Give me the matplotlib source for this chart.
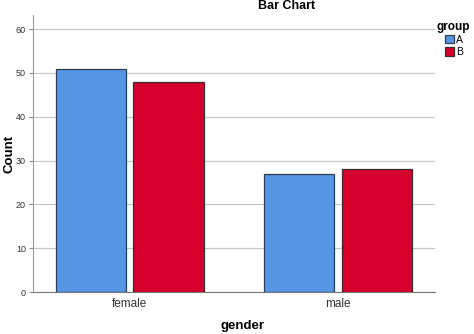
import matplotlib.pyplot as plt
import numpy as np

plt.rcParams['font.family'] = ['Liberation Sans', 'DejaVu Sans']

# Data
genders = ['female', 'male']
groups = ['A', 'B']
count_a = [51, 27]
count_b = [48, 28]
colors = ['#5595e3', '#d5002c']

fig = plt.figure(figsize=(4.74, 3.34), dpi=100)
ax = fig.add_axes([0.0696, 0.1257, 0.848, 0.829])

x = np.arange(len(genders))
w = 0.337
gap = 0.034
ax.bar(x - (w + gap) / 2, count_a, w, color=colors[0], edgecolor='#2f3d4e', linewidth=0.9, label=groups[0], zorder=3)
ax.bar(x + (w + gap) / 2, count_b, w, color=colors[1], edgecolor='#3a2a30', linewidth=0.9, label=groups[1], zorder=3)

ax.set_xlim(-0.466, 1.466)
ax.set_ylim(0, 63.2)
ax.set_yticks(range(0, 61, 10))
ax.set_xticks(x)
ax.set_xticklabels(genders)
ax.yaxis.grid(True, color='#c8c8c8', linewidth=0.9, zorder=0)
ax.tick_params(axis='y', labelsize=6.5, colors='#888888', labelcolor='#333333', length=3, pad=2)
ax.tick_params(axis='x', labelsize=8.5, labelcolor='#333333', length=0, pad=4)

for s in ['top', 'right']:
    ax.spines[s].set_visible(False)
ax.spines['left'].set_color('#999999')
ax.spines['bottom'].set_color('#777777')

ax.set_ylabel('Count', fontsize=9.5, fontweight='bold')
ax.yaxis.set_label_coords(-0.043, 0.5)
ax.set_xlabel('gender', fontsize=9.5, fontweight='bold')
ax.xaxis.set_label_coords(0.52, -0.1)
fig.text(0.605, 0.982, 'Bar Chart', fontsize=9, fontweight='bold', ha='center', va='center')

leg = ax.legend(title='group', loc='upper left', bbox_to_anchor=(1.005, 0.98), frameon=False,
                fontsize=7.5, title_fontproperties={'weight': 'bold', 'size': 8.5},
                handlelength=0.9, handleheight=0.9, handletextpad=0.2, labelspacing=0.2,
                borderaxespad=0, borderpad=0)

fig.savefig('out.png', dpi=100)
